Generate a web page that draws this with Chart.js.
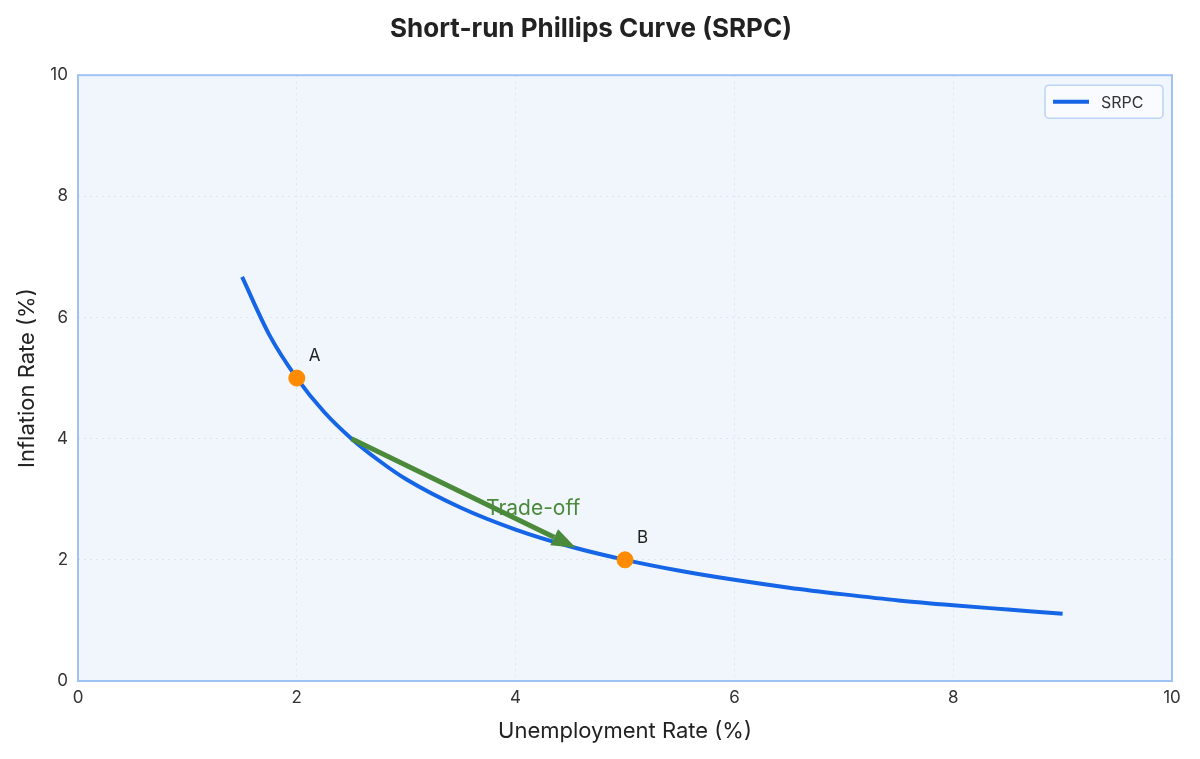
<!DOCTYPE html>
<html>
<head>
<meta charset="utf-8">
<script src="https://cdn.jsdelivr.net/npm/chart.js@4"></script>
<style>
  html, body { margin: 0; padding: 0; background: #fff; }
  #wrap { width: 1200px; height: 759px; }
</style>
</head>
<body>
<div id="wrap"><canvas id="grafico"></canvas></div>
<script>
// curve
const desemprego = [1.5, 1.75, 2, 2.25, 2.5, 2.75, 3, 3.5, 4, 4.5, 5, 5.5, 6, 6.5, 7, 7.5, 8, 8.5, 9];
const inflacao = [6.67, 5.71, 5.0, 4.44, 4.0, 3.64, 3.33, 2.86, 2.5, 2.22, 2.0, 1.82, 1.67, 1.54, 1.43, 1.33, 1.25, 1.18, 1.11];
// marked points
const pontosNomes = ["A", "B"];
const pontosX = [2, 5];
const pontosY = [5, 2];
// arrow along the curve
const setaInicio = [2.5, 4.0];
const setaFim = [4.55, 2.2];
const setaTexto = "Trade-off";
const setaTextoPos = [4.16, 2.84];
const ticksEixo = [0, 2, 4, 6, 8, 10];

const fonte = "Inter, 'Noto Sans', sans-serif";

const fundoPlot = {
  id: 'fundoPlot',
  beforeDraw(chart) {
    const { ctx, chartArea: a } = chart;
    ctx.save();
    ctx.fillStyle = '#f1f6fd';
    ctx.fillRect(a.left, a.top, a.right - a.left, a.bottom - a.top);
    ctx.restore();
  },
  afterDatasetsDraw(chart) {
    const { ctx, chartArea: a, scales } = chart;
    const x = scales.x, y = scales.y;
    ctx.save();
    // border
    ctx.strokeStyle = '#9fc2f5';
    ctx.lineWidth = 2;
    ctx.strokeRect(a.left, a.top, a.right - a.left, a.bottom - a.top);

    // arrow
    const x1 = x.getPixelForValue(setaInicio[0]), y1 = y.getPixelForValue(setaInicio[1]);
    const x2 = x.getPixelForValue(setaFim[0]), y2 = y.getPixelForValue(setaFim[1]);
    const ang = Math.atan2(y2 - y1, x2 - x1);
    const L = 24, W = 9;
    const bx = x2 - L * Math.cos(ang), by = y2 - L * Math.sin(ang);
    ctx.strokeStyle = '#4a8a3a';
    ctx.fillStyle = '#4a8a3a';
    ctx.lineWidth = 5;
    ctx.beginPath();
    ctx.moveTo(x1, y1);
    ctx.lineTo(bx, by);
    ctx.stroke();
    ctx.beginPath();
    ctx.moveTo(x2, y2);
    ctx.lineTo(bx + W * Math.sin(ang), by - W * Math.cos(ang));
    ctx.lineTo(bx - W * Math.sin(ang), by + W * Math.cos(ang));
    ctx.closePath();
    ctx.fill();

    ctx.font = `21px ${fonte}`;
    ctx.textAlign = 'center';
    ctx.textBaseline = 'middle';
    ctx.fillText(setaTexto, x.getPixelForValue(setaTextoPos[0]), y.getPixelForValue(setaTextoPos[1]));

    // point labels
    ctx.fillStyle = '#222';
    ctx.font = `17px ${fonte}`;
    ctx.textAlign = 'left';
    pontosNomes.forEach((n, i) => {
      ctx.fillText(n, x.getPixelForValue(pontosX[i]) + 12, y.getPixelForValue(pontosY[i]) - 22);
    });

    // legend inside plot
    const lx = a.right - 127, ly = a.top + 10, lw = 118, lh = 33;
    ctx.fillStyle = 'rgba(250,252,255,0.9)';
    ctx.strokeStyle = '#bcd3f3';
    ctx.lineWidth = 1.5;
    ctx.beginPath();
    ctx.roundRect(lx, ly, lw, lh, 4);
    ctx.fill();
    ctx.stroke();
    ctx.strokeStyle = '#1565e6';
    ctx.lineWidth = 4;
    ctx.beginPath();
    ctx.moveTo(lx + 8, ly + lh / 2);
    ctx.lineTo(lx + 44, ly + lh / 2);
    ctx.stroke();
    ctx.fillStyle = '#333';
    ctx.font = `16px ${fonte}`;
    ctx.fillText(chart.data.datasets[0].label, lx + 56, ly + lh / 2 + 1);
    ctx.restore();
  }
};

new Chart(document.getElementById('grafico'), {
  type: 'scatter',
  data: {
    datasets: [
      {
        label: 'SRPC',
        data: desemprego.map((d, i) => ({ x: d, y: inflacao[i] })),
        showLine: true,
        borderColor: '#1565e6',
        borderWidth: 4,
        pointRadius: 0,
        cubicInterpolationMode: 'monotone',
        order: 2
      },
      {
        label: 'Pontos',
        data: pontosX.map((d, i) => ({ x: d, y: pontosY[i] })),
        backgroundColor: '#ff8c00',
        borderColor: '#ff8c00',
        pointRadius: 8,
        order: 1
      }
    ]
  },
  options: {
    responsive: true,
    maintainAspectRatio: false,
    animation: false,
    layout: { padding: { top: 9, left: 10, right: 28, bottom: 10 } },
    plugins: {
      legend: { display: false },
      tooltip: { enabled: false },
      title: {
        display: true,
        text: 'Short-run Phillips Curve (SRPC)',
        color: '#222',
        font: { family: fonte, size: 26, weight: 'bold' },
        padding: { top: 5, bottom: 30 }
      }
    },
    scales: {
      x: {
        type: 'linear',
        min: 0, max: 10,
        afterBuildTicks: s => { s.ticks = ticksEixo.map(v => ({ value: v })); },
        afterFit: s => { s.height = 68; },
        grid: { color: '#dfe5ee', lineWidth: 1, drawTicks: false },
        border: { display: false, dash: [2, 4] },
        ticks: { color: '#333', padding: 7, font: { family: fonte, size: 17 } },
        title: { display: true, text: 'Unemployment Rate (%)', color: '#222', font: { family: fonte, size: 22 }, padding: { top: 4 } }
      },
      y: {
        type: 'linear',
        min: 0, max: 10,
        afterBuildTicks: s => { s.ticks = ticksEixo.map(v => ({ value: v })); },
        afterFit: s => { s.width = 68; },
        grid: { color: '#dfe5ee', lineWidth: 1, drawTicks: false },
        border: { display: false, dash: [2, 4] },
        ticks: { color: '#333', padding: 10, font: { family: fonte, size: 17 } },
        title: { display: true, text: 'Inflation Rate (%)', color: '#222', font: { family: fonte, size: 22 }, padding: { bottom: 4 } }
      }
    }
  },
  plugins: [fundoPlot]
});
</script>
</body>
</html>
